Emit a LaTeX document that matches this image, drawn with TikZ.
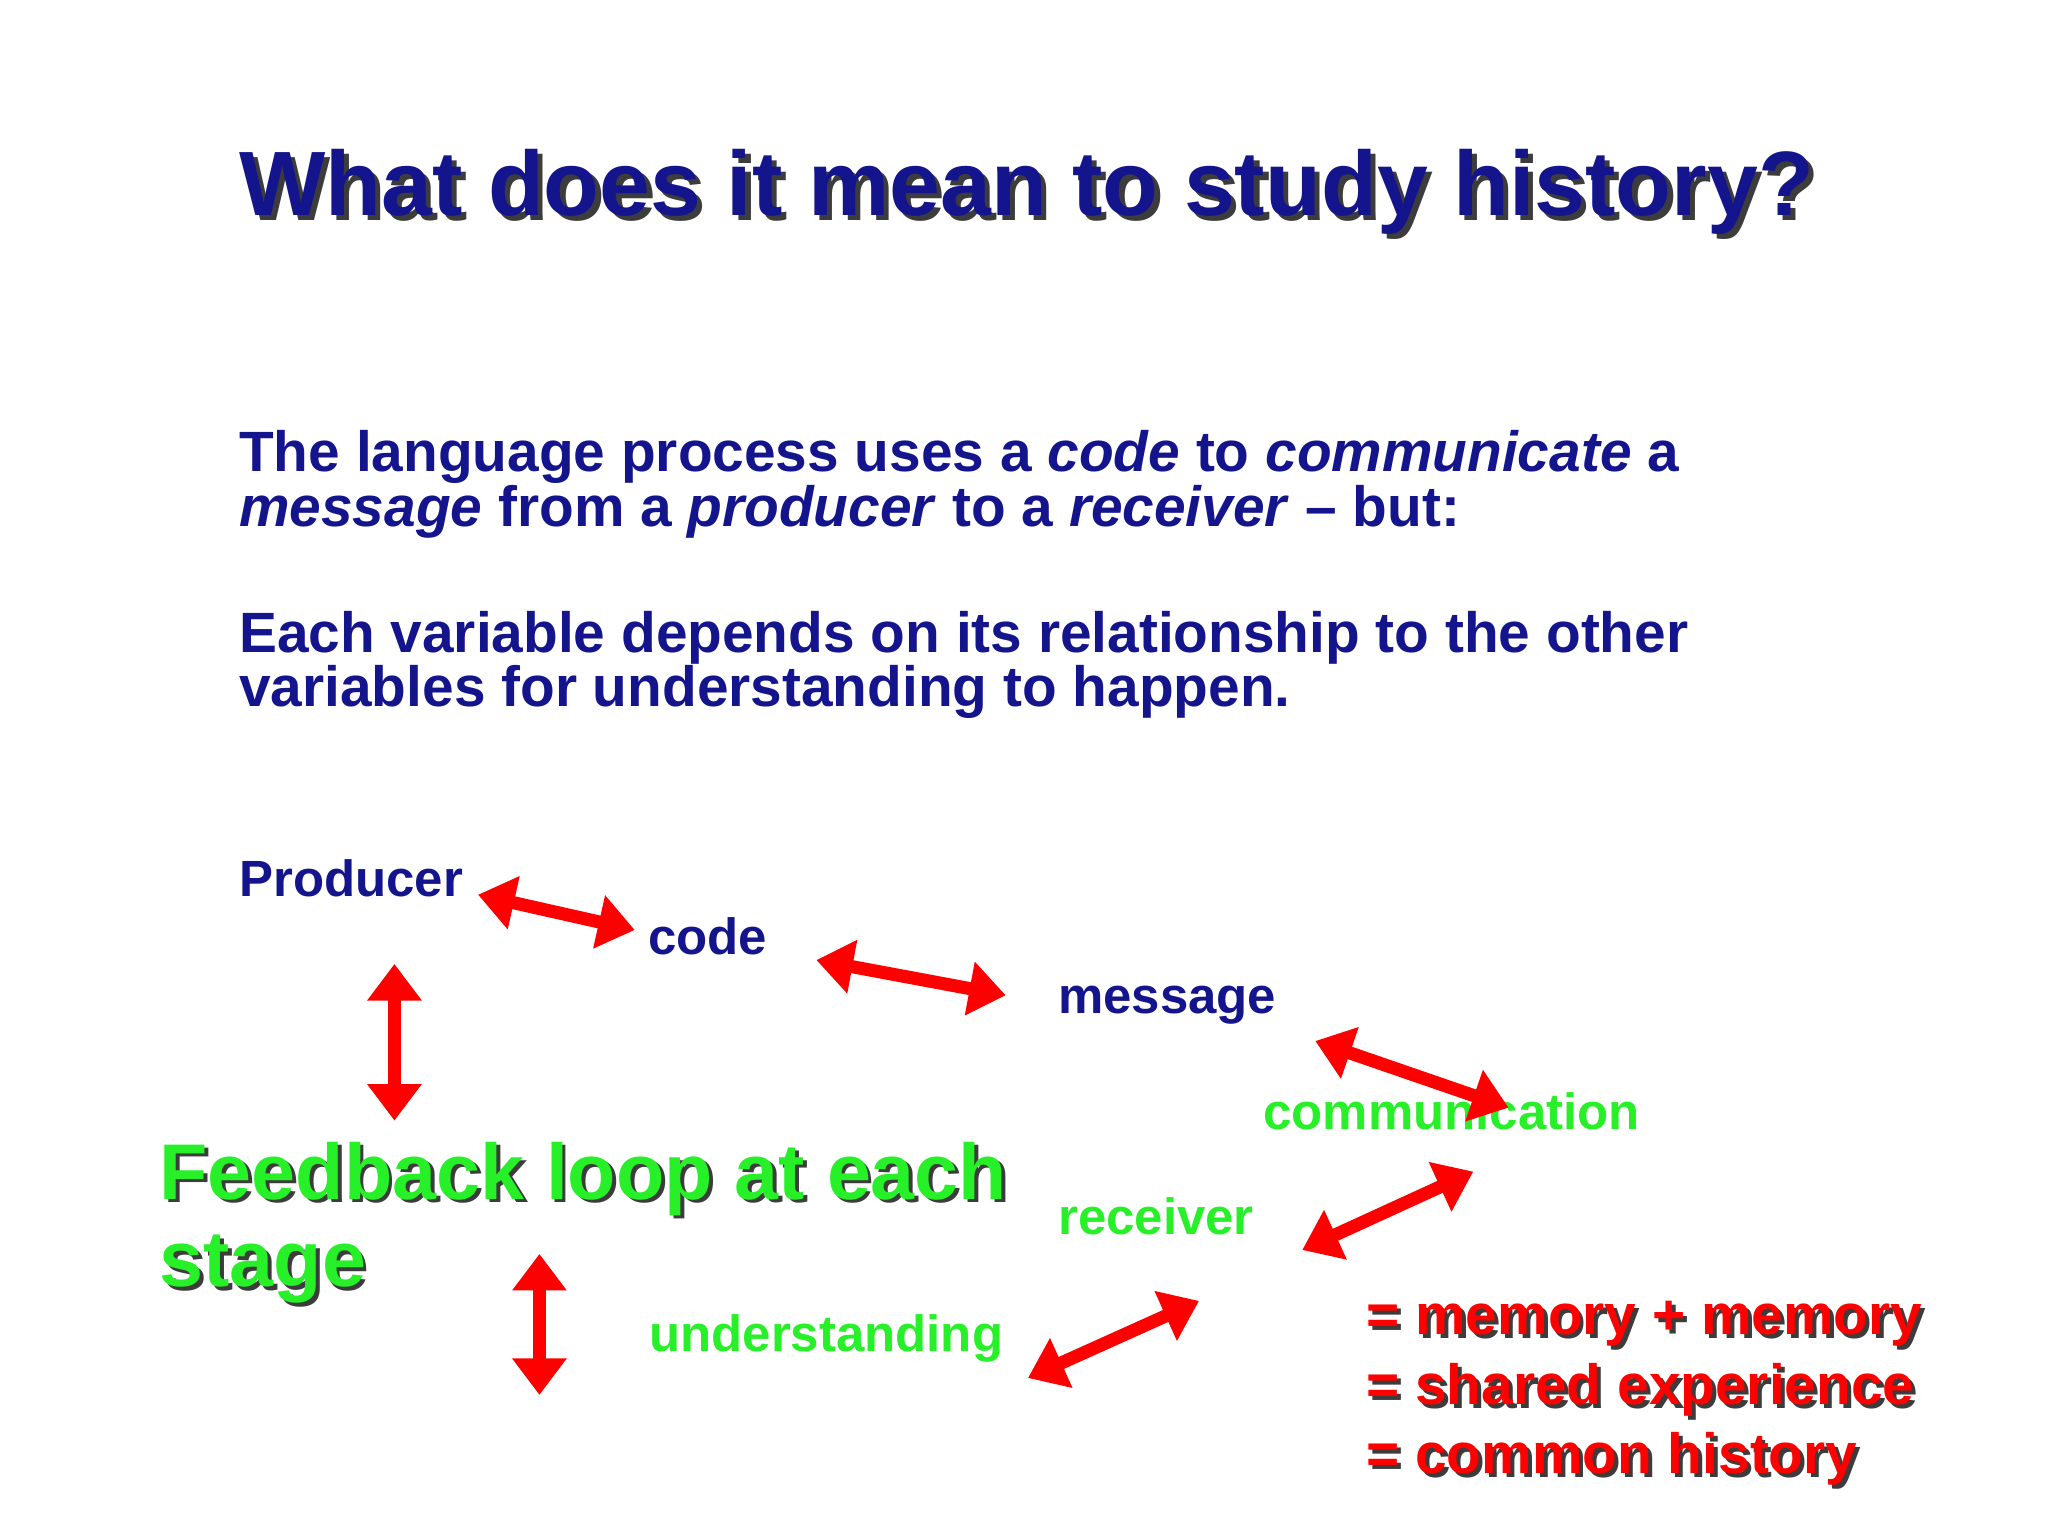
\documentclass[tikz,border=0pt]{standalone}
\usepackage{fontspec}
\setmainfont{Liberation Sans}
\usetikzlibrary{arrows.meta}
\definecolor{navy}{RGB}{20,20,140}
\definecolor{lgreen}{RGB}{40,240,40}
\definecolor{shade}{RGB}{60,60,60}
\tikzset{
  txt/.style={anchor=base west,inner sep=0pt,font=\bfseries\fontsize{43.5}{38}\selectfont,text=navy,align=left},
  lbl/.style={anchor=base west,inner sep=0pt,font=\bfseries\fontsize{39}{40}\selectfont},
  dbl/.style={red,line width=10pt,{Triangle[length=28pt,width=40pt]}-{Triangle[length=28pt,width=40pt]}}
}
\begin{document}
\begin{tikzpicture}[x=1pt,y=-1pt]
\useasboundingbox (0,0) rectangle (1568,1176);
% title with shadow
\node[anchor=base west,inner sep=0pt,font=\bfseries\fontsize{70}{80}\selectfont,text=shade] at (187,169) {What does it mean to study history?};
\node (title)[anchor=base west,inner sep=0pt,font=\bfseries\fontsize{70}{80}\selectfont,text=navy] at (183,165) {What does it mean to study history?};
\node (p1)[txt] at (183,403) {The language process uses a \textit{code} to \textit{communicate} a\\\textit{message} from a \textit{producer} to a \textit{receiver} -- but:};
\node (p2)[txt] at (183,541) {Each variable depends on its relationship to the other\\variables for understanding to happen.};
% labels
\node (prod)[lbl,text=navy] at (183,686) {Producer};
\node (code)[lbl,text=navy] at (496,731) {code};
\node (msg)[lbl,text=navy] at (810,776) {message};
\node (comm)[lbl,text=lgreen] at (967,865) {communication};
\node (recv)[lbl,text=lgreen] at (810,945) {receiver};
\node (und)[lbl,text=lgreen] at (497,1035) {understanding};
% feedback
\node[anchor=base west,inner sep=0pt,font=\bfseries\fontsize{60.5}{67}\selectfont,text=shade,align=left] at (125,988) {Feedback loop at each\\stage};
\node (fb)[anchor=base west,inner sep=0pt,font=\bfseries\fontsize{60.5}{67}\selectfont,text=lgreen,align=left] at (122,985) {Feedback loop at each\\stage};
% red text
\node[anchor=base west,inner sep=0pt,font=\bfseries\fontsize{43.5}{53}\selectfont,text=shade,align=left] at (1049,1131) {= memory + memory\\= shared experience\\= common history};
\node (mem)[anchor=base west,inner sep=0pt,font=\bfseries\fontsize{43.5}{53}\selectfont,text=red,align=left] at (1046,1128) {= memory + memory\\= shared experience\\= common history};
% arrow ends
\coordinate (a1) at (366,685); \coordinate (b1) at (486,712);
\coordinate (a2) at (625,735); \coordinate (b2) at (770,762);
\coordinate (a3) at (1007,797); \coordinate (b3) at (1155,848);
\coordinate (a4) at (997,957); \coordinate (b4) at (1128,897);
\coordinate (a5) at (787,1055); \coordinate (b5) at (918,996);
\coordinate (a6) at (302,738); \coordinate (b6) at (302,858);
\coordinate (a7) at (413,960); \coordinate (b7) at (413,1068);
\foreach \i in {1,...,7} \draw[dbl] (a\i) -- (b\i);
\end{tikzpicture}
\end{document}
